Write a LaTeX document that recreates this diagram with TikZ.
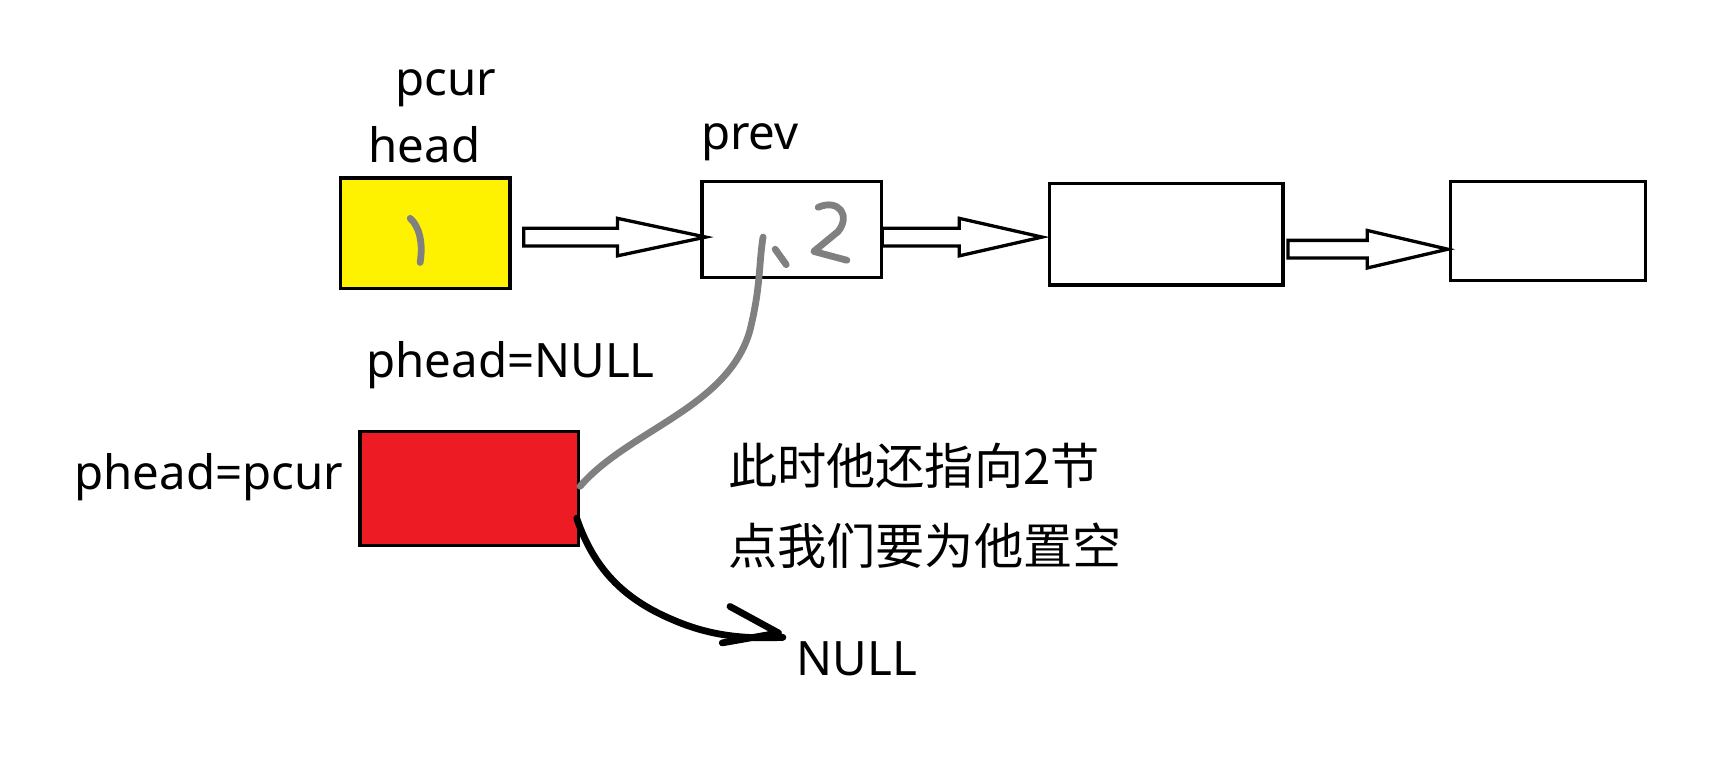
\documentclass[tikz,border=0pt]{standalone}
\usepackage{fontspec}
\setmainfont{Noto Sans}
\newfontfamily\cjk{Noto Sans CJK SC}
\begin{document}
\begin{tikzpicture}[x=0.5513pt,y=-0.5513pt,
  box/.style={draw,line width=1.65pt},
  lbl/.style={font=\fontsize{23.7}{26}\selectfont,inner sep=0pt},
  cj/.style={font=\cjk\fontsize{24.6}{28}\selectfont,inner sep=0pt,anchor=west},
  hand/.style={line width=3.4pt,line cap=round,line join=round}]
\useasboundingbox (0,0) rectangle (1568,696.5);
\fill[white] (0,0) rectangle (1568,696.5);
\node[box,fill={rgb,255:red,255;green,242;blue,0},minimum width=84.9pt,minimum height=55.1pt,anchor=north west] (n1) at (307,160) {};
\node[box,minimum width=89.9pt,minimum height=48pt,anchor=north west] (n2) at (635,163) {};
\node[box,minimum width=116.9pt,minimum height=50.7pt,anchor=north west] (n3) at (950,165) {};
\node[box,minimum width=97.6pt,minimum height=49.6pt,anchor=north west] (n4) at (1314,163) {};
\node[box,fill={rgb,255:red,237;green,28;blue,36},minimum width=109.2pt,minimum height=56.8pt,anchor=north west] (r) at (325,390) {};
% hollow arrows
\foreach \a/\b/\c/\y in {475/560/640/215, 800/870/945/215, 1168/1240/1313/226}{
  \draw[line width=1.65pt,line join=miter] (\a,\y-8) -- (\b,\y-8) -- (\b,\y-17) -- (\c,\y) -- (\b,\y+17) -- (\b,\y+8) -- (\a,\y+8) -- cycle;}
% handwritten 1 and 2
\draw[hand,gray] (372,198) .. controls (380,205) and (384,220) .. (381,238);
\draw[hand,gray] (742,188) .. controls (760,180) and (772,195) .. (760,210) -- (738,228) -- (768,236);
\draw[hand,gray] (703,226) -- (713,240);
% gray curve
\draw[hand,gray] (r.east) ++(0,-2) .. controls (570,390) and (660,370) .. (680,300) .. controls (690,260) and (688,240) .. (692,215);
% black curve to NULL
\coordinate (nl) at (710,578);
\draw[hand,black] (523,470) .. controls (540,520) and (570,545) .. (610,562) .. controls (640,575) and (670,580) .. (nl);
\draw[hand,black] (662,550) -- (706,574) -- (655,583);
% texts
\node[lbl] at (404,80) {pcur};
\node[lbl] at (385,131) {head};
\node[lbl] at (680,129) {prev};
\node[lbl] at (463,331) {phead=NULL};
\node[lbl,anchor=west] at (67,433) {phead=pcur};
\node[cj] at (660,422) {此时他还指向2节};
\node[cj] at (660,495) {点我们要为他置空};
\node[lbl] at (777,597) {NULL};
\end{tikzpicture}
\end{document}
